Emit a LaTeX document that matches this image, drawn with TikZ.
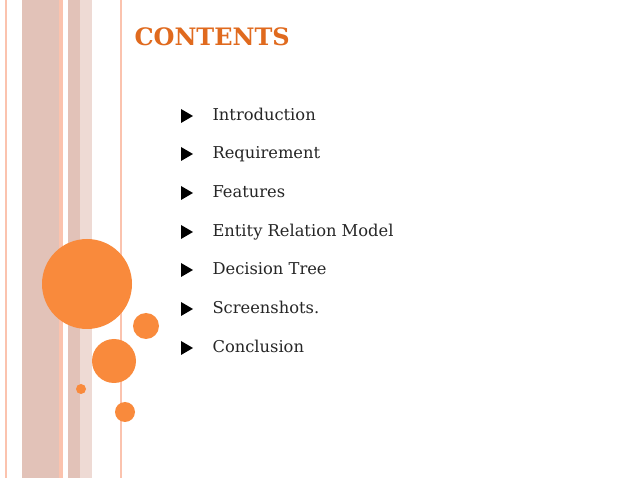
\documentclass[tikz,border=0pt]{standalone}
\usepackage{fontspec}
\setmainfont{DejaVu Serif}
\definecolor{band}{HTML}{E2C2B8}
\definecolor{oline}{HTML}{FBC3AE}
\definecolor{circ}{HTML}{F98A3C}
\definecolor{ttl}{HTML}{E06A1E}
\tikzset{item/.style={anchor=west,font=\fontsize{16.3}{18}\selectfont,text=black!85,text height=12pt,text depth=3.5pt},
bul/.style={fill=black,draw=none}}
\begin{document}
\begin{tikzpicture}[x=1pt,y=-1pt]
\useasboundingbox (0,0) rectangle (638,478);
\fill[white] (0,0) rectangle (638,478);
\fill[oline] (5,0) rectangle (7,478);
\fill[band] (22,0) rectangle (59,478);
\fill[oline] (59,0) rectangle (63,478);
\fill[band] (68,0) rectangle (80,478);
\fill[band!60] (80,0) rectangle (92,478);
\fill[oline] (120,0) rectangle (121.5,478);
\foreach \x/\y/\r/\n in {87/284/45/c1,146/326/13/c2,114/361/22/c3,81/389/5/c4,125/412/10/c5}
  \fill[circ] (\x,\y) circle (\r);
\node[anchor=west,font=\bfseries\fontsize{24}{28}\selectfont,text=ttl] (title) at (131,37) {CONTENTS};
\foreach \y/\t/\n in {116/Introduction/a,154/Requirement/b,193/Features/c,232/Entity Relation Model/d,270/Decision Tree/e,309/Screenshots./f,348/Conclusion/g}{
  \fill[bul] (181,\y-7) -- (193,\y) -- (181,\y+7) -- cycle;
  \node[item] (\n) at (209,\y) {\t};
}
\end{tikzpicture}
\end{document}
